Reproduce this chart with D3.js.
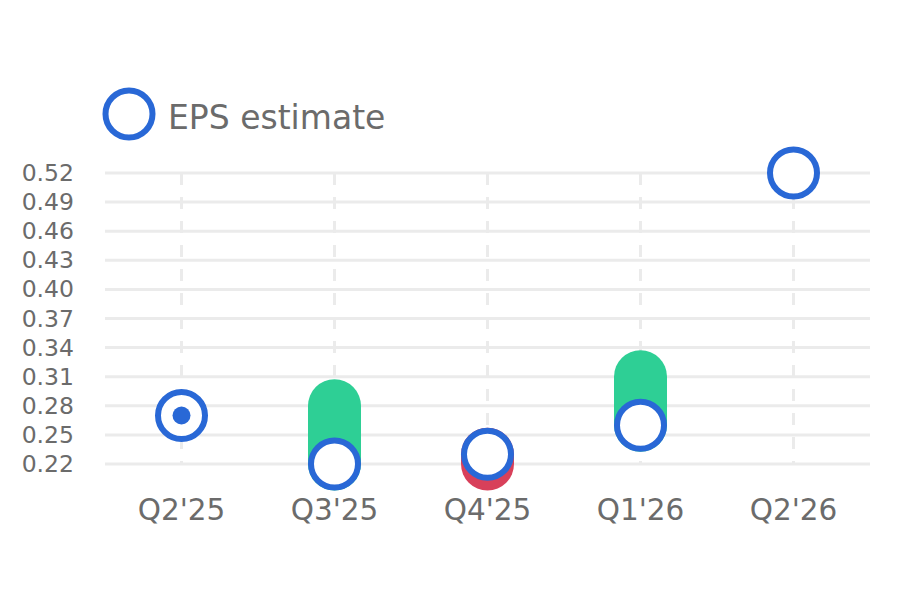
<!DOCTYPE html>
<html>
<head>
<meta charset="utf-8">
<script src="https://cdn.jsdelivr.net/npm/d3@7"></script>
<style>
	body { margin: 0; background: #fff; }
	svg { display: block; overflow: visible; }
	text { font-family: "DejaVu Sans", sans-serif; fill: #6b6b6b; }
</style>
</head>
<body>
<svg id="chart"></svg>
<script>
//Chart data.
const quarters = ["Q2'25", "Q3'25", "Q4'25", "Q1'26", "Q2'26"];
const epsEstimate = [0.27, 0.22, 0.23, 0.26, 0.52];
const epsActual = [0.27, 0.28, 0.22, 0.31, null];
const yTicks = [0.22, 0.25, 0.28, 0.31, 0.34, 0.37, 0.40, 0.43, 0.46, 0.49, 0.52];

const width = 900, height = 600;
const margin = {top: 173, right: 30, bottom: 136, left: 105};
const innerWidth = width - margin.left - margin.right;
const innerHeight = height - margin.top - margin.bottom;

const blue = '#2968d6', green = '#2ecf95', red = '#d8405a', grid = '#ebebeb';
const r = 23.5; //Estimate circle radius, stroke centred on it.

const svg = d3.select('#chart')
	.attr('width', width)
	.attr('height', height);

const g = svg.append('g')
	.attr('transform', `translate(${margin.left}, ${margin.top})`);

const x = d3.scaleBand()
	.domain(quarters)
	.range([0, innerWidth])
	.padding(0);

const y = d3.scaleLinear()
	.domain([0.22, 0.52])
	.range([innerHeight, 0]);

//Horizontal grid lines.
g.append('g')
	.selectAll('line')
	.data(yTicks)
	.join('line')
	.attr('x1', 0)
	.attr('x2', innerWidth)
	.attr('y1', d => y(d))
	.attr('y2', d => y(d))
	.attr('stroke', grid)
	.attr('stroke-width', 3);

//Vertical dashed grid lines at each quarter.
g.append('g')
	.selectAll('line')
	.data(quarters)
	.join('line')
	.attr('x1', d => x(d) + x.bandwidth() / 2)
	.attr('x2', d => x(d) + x.bandwidth() / 2)
	.attr('y1', 0)
	.attr('y2', innerHeight)
	.attr('stroke', grid)
	.attr('stroke-width', 3)
	.attr('stroke-dasharray', '12 12');

//Y axis labels.
const yAxis = g.append('g')
	.call(d3.axisLeft(y).tickValues(yTicks).tickFormat(d3.format('.2f')).tickSize(0).tickPadding(31));
yAxis.select('.domain').remove();
yAxis.selectAll('text')
	.style('font-size', '23.5px')
	.attr('fill', '#6b6b6b');

//X axis labels.
const xAxis = g.append('g')
	.attr('transform', `translate(0, ${innerHeight})`)
	.call(d3.axisBottom(x).tickSize(0).tickPadding(35));
xAxis.select('.domain').remove();
xAxis.selectAll('text')
	.style('font-size', '29.5px')
	.attr('fill', '#6b6b6b');

const rows = quarters.map((q, i) => ({q, est: epsEstimate[i], act: epsActual[i]}));
const outer = r + 3;

//Bars from estimate to actual: green for beat, red for miss.
g.append('g')
	.selectAll('rect')
	.data(rows.filter(d => d.act !== null && d.act !== d.est))
	.join('rect')
	.attr('x', d => x(d.q) + x.bandwidth() / 2 - outer)
	.attr('width', outer * 2)
	.attr('y', d => Math.min(y(d.act), y(d.est)) - outer)
	.attr('height', d => Math.abs(y(d.act) - y(d.est)) + outer * 2)
	.attr('rx', outer)
	.attr('fill', d => d.act > d.est ? green : red);

//Estimate circles.
g.append('g')
	.selectAll('circle')
	.data(rows)
	.join('circle')
	.attr('cx', d => x(d.q) + x.bandwidth() / 2)
	.attr('cy', d => y(d.est))
	.attr('r', r)
	.attr('fill', '#fff')
	.attr('stroke', blue)
	.attr('stroke-width', 6);

//Dot where the actual equals the estimate.
g.append('g')
	.selectAll('circle')
	.data(rows.filter(d => d.act !== null && d.act === d.est))
	.join('circle')
	.attr('cx', d => x(d.q) + x.bandwidth() / 2)
	.attr('cy', d => y(d.act))
	.attr('r', 9)
	.attr('fill', blue);

//Legend.
const legend = svg.append('g')
	.attr('transform', 'translate(129, 114)');
legend.append('circle')
	.attr('r', r)
	.attr('fill', '#fff')
	.attr('stroke', blue)
	.attr('stroke-width', 6);
legend.append('text')
	.text('EPS estimate')
	.attr('x', 39)
	.attr('y', 3)
	.attr('dy', '0.35em')
	.style('font-size', '33px');
</script>
</body>
</html>
